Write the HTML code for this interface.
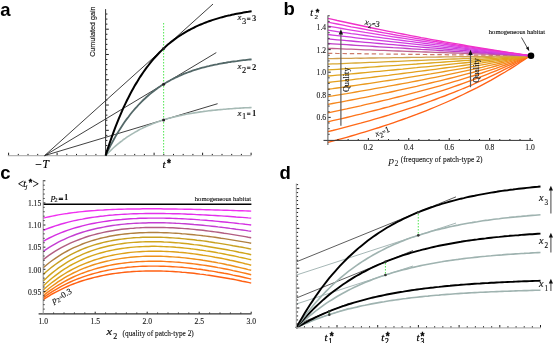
<!DOCTYPE html>
<html><head><meta charset="utf-8"><style>
html,body{margin:0;padding:0;background:#fff;}
svg{display:block;}
</style></head><body>
<svg width="553" height="343" viewBox="0 0 553 343">
<rect width="553" height="343" fill="#fff"/>
<path d="M7.8,155.6H251.4" stroke="#b4b4b4" stroke-width="1.3" fill="none"/>
<path d="M105.6,155.6V9.1" stroke="#333" stroke-width="1.0" fill="none"/>
<path d="M8.60,155.10V152.70M18.30,155.10V153.90M28.00,155.10V153.90M37.70,155.10V153.90M47.40,155.10V153.90M57.10,155.10V152.70M66.80,155.10V153.90M76.50,155.10V153.90M86.20,155.10V153.90M95.90,155.10V153.90M105.60,155.10V152.70M115.30,155.10V153.90M125.00,155.10V153.90M134.70,155.10V153.90M144.40,155.10V153.90M154.10,155.10V152.70M163.80,155.10V153.90M173.50,155.10V153.90M183.20,155.10V153.90M192.90,155.10V153.90M202.60,155.10V152.70M212.30,155.10V153.90M222.00,155.10V153.90M231.70,155.10V153.90M241.40,155.10V153.90M251.10,155.10V152.70" stroke="#1e1e1e" stroke-width="1.0" fill="none"/>
<path d="M106.00,150.54H107.40M106.00,145.49H107.40M106.00,140.43H107.40M106.00,135.38H107.40M106.00,130.32H108.80M106.00,125.26H107.40M106.00,120.21H107.40M106.00,115.15H107.40M106.00,110.10H107.40M106.00,105.04H108.80M106.00,99.98H107.40M106.00,94.93H107.40M106.00,89.87H107.40M106.00,84.82H107.40M106.00,79.76H108.80M106.00,74.70H107.40M106.00,69.65H107.40M106.00,64.59H107.40M106.00,59.54H107.40M106.00,54.48H108.80M106.00,49.42H107.40M106.00,44.37H107.40M106.00,39.31H107.40M106.00,34.26H107.40M106.00,29.20H108.80M106.00,24.14H107.40M106.00,19.09H107.40M106.00,14.03H107.40" stroke="#1e1e1e" stroke-width="1.0" fill="none"/>
<path d="M44.6,155.6L213.00,4.04" stroke="#2a2a2a" stroke-width="0.9" fill="none"/>
<path d="M44.6,155.6L216.30,52.58" stroke="#2a2a2a" stroke-width="0.9" fill="none"/>
<path d="M44.6,155.6L217.60,103.70" stroke="#2a2a2a" stroke-width="0.9" fill="none"/>
<path d="M105.6,155.6L107.2,153.9L108.9,152.2L110.5,150.6L112.2,149.0L113.8,147.5L115.4,146.1L117.1,144.7L118.7,143.3L120.4,142.0L122.0,140.8L123.6,139.5L125.3,138.4L126.9,137.2L128.6,136.1L130.2,135.1L131.8,134.1L133.5,133.1L135.1,132.1L136.8,131.2L138.4,130.3L140.0,129.4L141.7,128.6L143.3,127.8L145.0,127.0L146.6,126.3L148.3,125.6L149.9,124.9L151.5,124.2L153.2,123.5L154.8,122.9L156.5,122.3L158.1,121.7L159.7,121.2L161.4,120.6L163.0,120.1L164.7,119.6L166.3,119.1L167.9,118.6L169.6,118.1L171.2,117.7L172.9,117.3L174.5,116.9L176.1,116.5L177.8,116.1L179.4,115.7L181.1,115.4L182.7,115.0L184.3,114.7L186.0,114.3L187.6,114.0L189.3,113.7L190.9,113.4L192.5,113.2L194.2,112.9L195.8,112.6L197.5,112.4L199.1,112.1L200.7,111.9L202.4,111.7L204.0,111.4L205.7,111.2L207.3,111.0L208.9,110.8L210.6,110.6L212.2,110.4L213.9,110.3L215.5,110.1L217.2,109.9L218.8,109.8L220.4,109.6L222.1,109.5L223.7,109.3L225.4,109.2L227.0,109.0L228.6,108.9L230.3,108.8L231.9,108.7L233.6,108.5L235.2,108.4L236.8,108.3L238.5,108.2L240.1,108.1L241.8,108.0L243.4,107.9L245.0,107.8L246.7,107.7L248.3,107.7L250.0,107.6L251.6,107.5" stroke="#a6bab5" stroke-width="1.6" fill="none"/>
<path d="M105.6,155.6L107.2,152.1L108.9,148.8L110.5,145.6L112.2,142.5L113.8,139.5L115.4,136.6L117.1,133.8L118.7,131.1L120.4,128.4L122.0,125.9L123.6,123.5L125.3,121.1L126.9,118.9L128.6,116.7L130.2,114.5L131.8,112.5L133.5,110.5L135.1,108.6L136.8,106.8L138.4,105.0L140.0,103.3L141.7,101.6L143.3,100.0L145.0,98.5L146.6,97.0L148.3,95.5L149.9,94.1L151.5,92.8L153.2,91.5L154.8,90.2L156.5,89.0L158.1,87.8L159.7,86.7L161.4,85.6L163.0,84.6L164.7,83.5L166.3,82.6L167.9,81.6L169.6,80.7L171.2,79.8L172.9,79.0L174.5,78.1L176.1,77.3L177.8,76.6L179.4,75.8L181.1,75.1L182.7,74.4L184.3,73.7L186.0,73.1L187.6,72.5L189.3,71.9L190.9,71.3L192.5,70.7L194.2,70.2L195.8,69.7L197.5,69.1L199.1,68.7L200.7,68.2L202.4,67.7L204.0,67.3L205.7,66.9L207.3,66.4L208.9,66.1L210.6,65.7L212.2,65.3L213.9,64.9L215.5,64.6L217.2,64.3L218.8,63.9L220.4,63.6L222.1,63.3L223.7,63.0L225.4,62.8L227.0,62.5L228.6,62.2L230.3,62.0L231.9,61.7L233.6,61.5L235.2,61.3L236.8,61.1L238.5,60.8L240.1,60.6L241.8,60.4L243.4,60.2L245.0,60.1L246.7,59.9L248.3,59.7L250.0,59.5L251.6,59.4" stroke="#536868" stroke-width="1.8" fill="none"/>
<path d="M105.6,155.6L107.2,150.4L108.9,145.4L110.5,140.6L112.2,135.9L113.8,131.4L115.4,127.1L117.1,122.9L118.7,118.8L120.4,114.9L122.0,111.1L123.6,107.4L125.3,103.9L126.9,100.5L128.6,97.2L130.2,94.0L131.8,91.0L133.5,88.0L135.1,85.1L136.8,82.4L138.4,79.7L140.0,77.1L141.7,74.6L143.3,72.2L145.0,69.9L146.6,67.7L148.3,65.5L149.9,63.4L151.5,61.4L153.2,59.4L154.8,57.5L156.5,55.7L158.1,54.0L159.7,52.3L161.4,50.6L163.0,49.1L164.7,47.5L166.3,46.0L167.9,44.6L169.6,43.2L171.2,41.9L172.9,40.6L174.5,39.4L176.1,38.2L177.8,37.0L179.4,35.9L181.1,34.9L182.7,33.8L184.3,32.8L186.0,31.8L187.6,30.9L189.3,30.0L190.9,29.1L192.5,28.3L194.2,27.5L195.8,26.7L197.5,25.9L199.1,25.2L200.7,24.5L202.4,23.8L204.0,23.1L205.7,22.5L207.3,21.9L208.9,21.3L210.6,20.7L212.2,20.1L213.9,19.6L215.5,19.1L217.2,18.6L218.8,18.1L220.4,17.6L222.1,17.2L223.7,16.8L225.4,16.3L227.0,15.9L228.6,15.5L230.3,15.2L231.9,14.8L233.6,14.4L235.2,14.1L236.8,13.8L238.5,13.5L240.1,13.2L241.8,12.9L243.4,12.6L245.0,12.3L246.7,12.0L248.3,11.8L250.0,11.5L251.6,11.3" stroke="#000000" stroke-width="2.0" fill="none"/>
<path d="M163.6,23V155" stroke="#5fe85f" stroke-width="1.1" stroke-dasharray="1.5,1.5" fill="none"/>
<circle cx="163.6" cy="119.90" r="1.5" fill="#222"/>
<circle cx="163.6" cy="84.20" r="1.5" fill="#222"/>
<circle cx="163.6" cy="48.50" r="1.5" fill="#222"/>
<text x="0" y="0" font-family="'Liberation Sans', sans-serif" font-size="7.2" text-anchor="middle" transform="translate(95.4,31.7) rotate(-90)" fill="#1a1a1a" stroke="#1a1a1a" stroke-width="0.15">Cumulated gain</text>
<text x="35.3" y="167.8" font-family="'Liberation Serif', serif" font-size="11.5" fill="#000" stroke="#000" stroke-width="0.25">−</text>
<text x="42.4" y="167.9" font-family="'Liberation Serif', serif" font-size="11.5" font-style="italic" fill="#000" stroke="#000" stroke-width="0.2">T</text>
<text x="162.4" y="167.6" font-family="'Liberation Serif', serif" font-size="11.0" font-style="italic" fill="#000" stroke="#000" stroke-width="0.2">t</text>
<text x="169.00" y="167.15" font-family="'Liberation Sans', sans-serif" font-size="10.0" font-weight="bold" text-anchor="middle" fill="#000" stroke="#000" stroke-width="0.3">*</text>
<text x="237.5" y="19.9" font-family="'Liberation Serif', serif" font-size="8.8" font-style="italic" fill="#111" stroke="#111" stroke-width="0.15">x</text>
<text x="241.9" y="23.5" font-family="'Liberation Serif', serif" font-size="8.4" fill="#111" stroke="#111" stroke-width="0.15">3</text>
<text x="246.7" y="20.5" font-family="'Liberation Serif', serif" font-size="6.8" fill="#222" stroke="#222" stroke-width="0.35">=</text>
<text x="251.9" y="20.5" font-family="'Liberation Serif', serif" font-size="8.6" font-weight="bold" fill="#111">3</text>
<text x="237.5" y="69.4" font-family="'Liberation Serif', serif" font-size="8.8" font-style="italic" fill="#111" stroke="#111" stroke-width="0.15">x</text>
<text x="241.9" y="73.0" font-family="'Liberation Serif', serif" font-size="8.4" fill="#111" stroke="#111" stroke-width="0.15">2</text>
<text x="246.7" y="70.0" font-family="'Liberation Serif', serif" font-size="6.8" fill="#222" stroke="#222" stroke-width="0.35">=</text>
<text x="251.9" y="70.0" font-family="'Liberation Serif', serif" font-size="8.6" font-weight="bold" fill="#111">2</text>
<text x="237.5" y="115.6" font-family="'Liberation Serif', serif" font-size="8.8" font-style="italic" fill="#111" stroke="#111" stroke-width="0.15">x</text>
<text x="241.9" y="119.19999999999999" font-family="'Liberation Serif', serif" font-size="8.4" fill="#111" stroke="#111" stroke-width="0.15">1</text>
<text x="246.7" y="116.19999999999999" font-family="'Liberation Serif', serif" font-size="6.8" fill="#222" stroke="#222" stroke-width="0.35">=</text>
<text x="251.9" y="116.19999999999999" font-family="'Liberation Serif', serif" font-size="8.6" font-weight="bold" fill="#111">1</text>
<path d="M327.9,142.4L332.6,141.1L337.2,139.9L341.9,138.6L346.6,137.3L351.2,136.0L355.9,134.6L360.6,133.2L365.2,131.8L369.9,130.4L374.6,128.9L379.2,127.5L383.9,125.9L388.6,124.4L393.2,122.8L397.9,121.2L402.6,119.5L407.2,117.9L411.9,116.1L416.6,114.4L421.2,112.6L425.9,110.8L430.6,108.9L435.2,107.0L439.9,105.0L444.6,103.0L449.2,101.0L453.9,98.9L458.6,96.7L463.2,94.5L467.9,92.2L472.6,89.9L477.2,87.6L481.9,85.1L486.5,82.6L491.2,80.1L495.9,77.4L500.5,74.7L505.2,72.0L509.9,69.1L513.9,66.6L517.2,64.5L520.4,62.3L523.6,60.2L526.9,58.0L530.1,55.7" stroke="#ff6216" stroke-width="1.35" fill="none"/>
<path d="M327.9,131.6L332.6,130.5L337.2,129.3L341.9,128.1L346.6,126.9L351.2,125.7L355.9,124.4L360.6,123.2L365.2,121.9L369.9,120.6L374.6,119.2L379.2,117.9L383.9,116.5L388.6,115.1L393.2,113.6L397.9,112.2L402.6,110.7L407.2,109.2L411.9,107.6L416.6,106.1L421.2,104.5L425.9,102.8L430.6,101.2L435.2,99.5L439.9,97.7L444.6,96.0L449.2,94.2L453.9,92.3L458.6,90.5L463.2,88.5L467.9,86.6L472.6,84.6L477.2,82.5L481.9,80.4L486.5,78.3L491.2,76.1L495.9,73.9L500.5,71.6L505.2,69.2L509.9,66.8L513.9,64.7L517.2,63.0L520.4,61.2L523.6,59.4L526.9,57.6L530.1,55.7" stroke="#ff6a18" stroke-width="1.35" fill="none"/>
<path d="M327.9,121.8L332.6,120.7L337.2,119.7L341.9,118.6L346.6,117.5L351.2,116.4L355.9,115.2L360.6,114.1L365.2,112.9L369.9,111.7L374.6,110.5L379.2,109.3L383.9,108.0L388.6,106.8L393.2,105.5L397.9,104.2L402.6,102.8L407.2,101.5L411.9,100.1L416.6,98.7L421.2,97.3L425.9,95.9L430.6,94.4L435.2,92.9L439.9,91.4L444.6,89.8L449.2,88.3L453.9,86.7L458.6,85.0L463.2,83.4L467.9,81.7L472.6,80.0L477.2,78.2L481.9,76.4L486.5,74.6L491.2,72.7L495.9,70.8L500.5,68.9L505.2,66.9L509.9,64.9L513.9,63.1L517.2,61.7L520.4,60.2L523.6,58.7L526.9,57.2L530.1,55.7" stroke="#fd741a" stroke-width="1.35" fill="none"/>
<path d="M327.9,112.8L332.6,111.8L337.2,110.8L341.9,109.8L346.6,108.9L351.2,107.8L355.9,106.8L360.6,105.8L365.2,104.7L369.9,103.7L374.6,102.6L379.2,101.5L383.9,100.4L388.6,99.3L393.2,98.1L397.9,97.0L402.6,95.8L407.2,94.6L411.9,93.4L416.6,92.2L421.2,90.9L425.9,89.7L430.6,88.4L435.2,87.1L439.9,85.8L444.6,84.4L449.2,83.1L453.9,81.7L458.6,80.3L463.2,78.9L467.9,77.4L472.6,76.0L477.2,74.5L481.9,73.0L486.5,71.4L491.2,69.9L495.9,68.3L500.5,66.6L505.2,65.0L509.9,63.3L513.9,61.8L517.2,60.6L520.4,59.4L523.6,58.2L526.9,57.0L530.1,55.7" stroke="#fa7e1c" stroke-width="1.35" fill="none"/>
<path d="M327.9,104.4L332.6,103.5L337.2,102.7L341.9,101.8L346.6,100.9L351.2,100.0L355.9,99.1L360.6,98.2L365.2,97.3L369.9,96.3L374.6,95.4L379.2,94.4L383.9,93.4L388.6,92.5L393.2,91.5L397.9,90.4L402.6,89.4L407.2,88.4L411.9,87.3L416.6,86.3L421.2,85.2L425.9,84.1L430.6,83.0L435.2,81.9L439.9,80.8L444.6,79.6L449.2,78.5L453.9,77.3L458.6,76.1L463.2,74.9L467.9,73.7L472.6,72.5L477.2,71.2L481.9,69.9L486.5,68.7L491.2,67.3L495.9,66.0L500.5,64.7L505.2,63.3L509.9,61.9L513.9,60.7L517.2,59.7L520.4,58.7L523.6,57.7L526.9,56.7L530.1,55.7" stroke="#f6881e" stroke-width="1.35" fill="none"/>
<path d="M327.9,96.6L332.6,95.9L337.2,95.1L341.9,94.3L346.6,93.6L351.2,92.8L355.9,92.0L360.6,91.2L365.2,90.4L369.9,89.6L374.6,88.7L379.2,87.9L383.9,87.1L388.6,86.2L393.2,85.4L397.9,84.5L402.6,83.6L407.2,82.8L411.9,81.9L416.6,81.0L421.2,80.1L425.9,79.1L430.6,78.2L435.2,77.3L439.9,76.3L444.6,75.4L449.2,74.4L453.9,73.4L458.6,72.4L463.2,71.4L467.9,70.4L472.6,69.4L477.2,68.3L481.9,67.3L486.5,66.2L491.2,65.2L495.9,64.1L500.5,63.0L505.2,61.9L509.9,60.7L513.9,59.7L517.2,59.0L520.4,58.1L523.6,57.3L526.9,56.5L530.1,55.7" stroke="#f0921e" stroke-width="1.35" fill="none"/>
<path d="M327.9,89.3L332.6,88.7L337.2,88.0L341.9,87.4L346.6,86.7L351.2,86.0L355.9,85.4L360.6,84.7L365.2,84.0L369.9,83.3L374.6,82.6L379.2,81.9L383.9,81.2L388.6,80.5L393.2,79.8L397.9,79.1L402.6,78.4L407.2,77.6L411.9,76.9L416.6,76.1L421.2,75.4L425.9,74.6L430.6,73.9L435.2,73.1L439.9,72.3L444.6,71.5L449.2,70.7L453.9,69.9L458.6,69.1L463.2,68.3L467.9,67.5L472.6,66.6L477.2,65.8L481.9,64.9L486.5,64.1L491.2,63.2L495.9,62.4L500.5,61.5L505.2,60.6L509.9,59.7L513.9,58.9L517.2,58.3L520.4,57.6L523.6,57.0L526.9,56.3L530.1,55.7" stroke="#ea9a1e" stroke-width="1.35" fill="none"/>
<path d="M327.9,82.5L332.6,81.9L337.2,81.4L341.9,80.9L346.6,80.3L351.2,79.8L355.9,79.2L360.6,78.7L365.2,78.1L369.9,77.6L374.6,77.0L379.2,76.4L383.9,75.8L388.6,75.3L393.2,74.7L397.9,74.1L402.6,73.5L407.2,72.9L411.9,72.3L416.6,71.7L421.2,71.1L425.9,70.5L430.6,69.9L435.2,69.3L439.9,68.7L444.6,68.0L449.2,67.4L453.9,66.8L458.6,66.1L463.2,65.5L467.9,64.8L472.6,64.2L477.2,63.5L481.9,62.9L486.5,62.2L491.2,61.5L495.9,60.8L500.5,60.2L505.2,59.5L509.9,58.8L513.9,58.2L517.2,57.7L520.4,57.2L523.6,56.7L526.9,56.2L530.1,55.7" stroke="#e4a01e" stroke-width="1.35" fill="none"/>
<path d="M327.9,76.0L332.6,75.6L337.2,75.2L341.9,74.8L346.6,74.3L351.2,73.9L355.9,73.5L360.6,73.0L365.2,72.6L369.9,72.2L374.6,71.7L379.2,71.3L383.9,70.9L388.6,70.4L393.2,70.0L397.9,69.5L402.6,69.1L407.2,68.6L411.9,68.1L416.6,67.7L421.2,67.2L425.9,66.8L430.6,66.3L435.2,65.8L439.9,65.4L444.6,64.9L449.2,64.4L453.9,63.9L458.6,63.4L463.2,63.0L467.9,62.5L472.6,62.0L477.2,61.5L481.9,61.0L486.5,60.5L491.2,60.0L495.9,59.5L500.5,59.0L505.2,58.5L509.9,58.0L513.9,57.5L517.2,57.1L520.4,56.8L523.6,56.4L526.9,56.1L530.1,55.7" stroke="#e0a41e" stroke-width="1.35" fill="none"/>
<path d="M327.9,69.9L332.6,69.6L337.2,69.3L341.9,69.0L346.6,68.7L351.2,68.4L355.9,68.1L360.6,67.8L365.2,67.5L369.9,67.1L374.6,66.8L379.2,66.5L383.9,66.2L388.6,65.9L393.2,65.6L397.9,65.3L402.6,64.9L407.2,64.6L411.9,64.3L416.6,64.0L421.2,63.6L425.9,63.3L430.6,63.0L435.2,62.7L439.9,62.3L444.6,62.0L449.2,61.7L453.9,61.3L458.6,61.0L463.2,60.7L467.9,60.3L472.6,60.0L477.2,59.6L481.9,59.3L486.5,59.0L491.2,58.6L495.9,58.3L500.5,57.9L505.2,57.6L509.9,57.2L513.9,56.9L517.2,56.7L520.4,56.4L523.6,56.2L526.9,55.9L530.1,55.7" stroke="#dca822" stroke-width="1.35" fill="none"/>
<path d="M327.9,64.1L332.6,63.9L337.2,63.8L341.9,63.6L346.6,63.4L351.2,63.2L355.9,63.0L360.6,62.8L365.2,62.6L369.9,62.4L374.6,62.3L379.2,62.1L383.9,61.9L388.6,61.7L393.2,61.5L397.9,61.3L402.6,61.1L407.2,60.9L411.9,60.7L416.6,60.5L421.2,60.3L425.9,60.1L430.6,59.9L435.2,59.8L439.9,59.6L444.6,59.4L449.2,59.2L453.9,59.0L458.6,58.8L463.2,58.6L467.9,58.4L472.6,58.2L477.2,58.0L481.9,57.8L486.5,57.6L491.2,57.4L495.9,57.2L500.5,57.0L505.2,56.8L509.9,56.6L513.9,56.4L517.2,56.3L520.4,56.1L523.6,56.0L526.9,55.8L530.1,55.7" stroke="#d8a830" stroke-width="1.35" fill="none"/>
<path d="M327.9,58.6L332.6,58.6L337.2,58.5L341.9,58.4L346.6,58.4L351.2,58.3L355.9,58.2L360.6,58.2L365.2,58.1L369.9,58.0L374.6,58.0L379.2,57.9L383.9,57.8L388.6,57.8L393.2,57.7L397.9,57.6L402.6,57.6L407.2,57.5L411.9,57.4L416.6,57.4L421.2,57.3L425.9,57.2L430.6,57.1L435.2,57.1L439.9,57.0L444.6,56.9L449.2,56.9L453.9,56.8L458.6,56.7L463.2,56.7L467.9,56.6L472.6,56.5L477.2,56.5L481.9,56.4L486.5,56.3L491.2,56.3L495.9,56.2L500.5,56.1L505.2,56.1L509.9,56.0L513.9,55.9L517.2,55.9L520.4,55.8L523.6,55.8L526.9,55.7L530.1,55.7" stroke="#d0a050" stroke-width="1.35" fill="none"/>
<path d="M327.9,53.4L332.6,53.4L337.2,53.5L341.9,53.5L346.6,53.6L351.2,53.6L355.9,53.7L360.6,53.7L365.2,53.8L369.9,53.9L374.6,53.9L379.2,54.0L383.9,54.0L388.6,54.1L393.2,54.1L397.9,54.2L402.6,54.2L407.2,54.3L411.9,54.3L416.6,54.4L421.2,54.5L425.9,54.5L430.6,54.6L435.2,54.6L439.9,54.7L444.6,54.7L449.2,54.8L453.9,54.8L458.6,54.9L463.2,54.9L467.9,55.0L472.6,55.0L477.2,55.1L481.9,55.1L486.5,55.2L491.2,55.3L495.9,55.3L500.5,55.4L505.2,55.4L509.9,55.5L513.9,55.5L517.2,55.6L520.4,55.6L523.6,55.6L526.9,55.7L530.1,55.7" stroke="#cc7a6a" stroke-width="1.2" stroke-dasharray="4.4,2.9" fill="none"/>
<path d="M327.9,48.3L332.6,48.5L337.2,48.7L341.9,48.9L346.6,49.1L351.2,49.2L355.9,49.4L360.6,49.6L365.2,49.8L369.9,49.9L374.6,50.1L379.2,50.3L383.9,50.4L388.6,50.6L393.2,50.8L397.9,51.0L402.6,51.1L407.2,51.3L411.9,51.5L416.6,51.6L421.2,51.8L425.9,52.0L430.6,52.2L435.2,52.3L439.9,52.5L444.6,52.7L449.2,52.8L453.9,53.0L458.6,53.2L463.2,53.3L467.9,53.5L472.6,53.7L477.2,53.8L481.9,54.0L486.5,54.2L491.2,54.3L495.9,54.5L500.5,54.7L505.2,54.8L509.9,55.0L513.9,55.1L517.2,55.2L520.4,55.4L523.6,55.5L526.9,55.6L530.1,55.7" stroke="#c06090" stroke-width="1.35" fill="none"/>
<path d="M327.9,43.5L332.6,43.8L337.2,44.1L341.9,44.4L346.6,44.7L351.2,45.0L355.9,45.3L360.6,45.6L365.2,45.9L369.9,46.2L374.6,46.5L379.2,46.8L383.9,47.1L388.6,47.4L393.2,47.7L397.9,47.9L402.6,48.2L407.2,48.5L411.9,48.8L416.6,49.1L421.2,49.4L425.9,49.6L430.6,49.9L435.2,50.2L439.9,50.5L444.6,50.8L449.2,51.0L453.9,51.3L458.6,51.6L463.2,51.9L467.9,52.1L472.6,52.4L477.2,52.7L481.9,53.0L486.5,53.2L491.2,53.5L495.9,53.8L500.5,54.0L505.2,54.3L509.9,54.6L513.9,54.8L517.2,55.0L520.4,55.2L523.6,55.3L526.9,55.5L530.1,55.7" stroke="#c040c8" stroke-width="1.35" fill="none"/>
<path d="M327.9,38.9L332.6,39.4L337.2,39.8L341.9,40.2L346.6,40.6L351.2,41.0L355.9,41.5L360.6,41.9L365.2,42.3L369.9,42.7L374.6,43.1L379.2,43.5L383.9,43.9L388.6,44.3L393.2,44.7L397.9,45.1L402.6,45.5L407.2,45.9L411.9,46.3L416.6,46.7L421.2,47.1L425.9,47.5L430.6,47.8L435.2,48.2L439.9,48.6L444.6,49.0L449.2,49.4L453.9,49.8L458.6,50.1L463.2,50.5L467.9,50.9L472.6,51.2L477.2,51.6L481.9,52.0L486.5,52.4L491.2,52.7L495.9,53.1L500.5,53.4L505.2,53.8L509.9,54.2L513.9,54.5L517.2,54.7L520.4,55.0L523.6,55.2L526.9,55.5L530.1,55.7" stroke="#c838d8" stroke-width="1.35" fill="none"/>
<path d="M327.9,34.5L332.6,35.1L337.2,35.6L341.9,36.1L346.6,36.7L351.2,37.2L355.9,37.8L360.6,38.3L365.2,38.8L369.9,39.3L374.6,39.9L379.2,40.4L383.9,40.9L388.6,41.4L393.2,41.9L397.9,42.4L402.6,42.9L407.2,43.4L411.9,43.9L416.6,44.4L421.2,44.9L425.9,45.4L430.6,45.9L435.2,46.4L439.9,46.9L444.6,47.4L449.2,47.8L453.9,48.3L458.6,48.8L463.2,49.2L467.9,49.7L472.6,50.2L477.2,50.6L481.9,51.1L486.5,51.6L491.2,52.0L495.9,52.5L500.5,52.9L505.2,53.4L509.9,53.8L513.9,54.2L517.2,54.5L520.4,54.8L523.6,55.1L526.9,55.4L530.1,55.7" stroke="#d03ee0" stroke-width="1.35" fill="none"/>
<path d="M327.9,30.2L332.6,30.9L337.2,31.6L341.9,32.3L346.6,32.9L351.2,33.6L355.9,34.2L360.6,34.9L365.2,35.5L369.9,36.2L374.6,36.8L379.2,37.4L383.9,38.1L388.6,38.7L393.2,39.3L397.9,39.9L402.6,40.5L407.2,41.1L411.9,41.7L416.6,42.3L421.2,42.9L425.9,43.5L430.6,44.1L435.2,44.7L439.9,45.2L444.6,45.8L449.2,46.4L453.9,47.0L458.6,47.5L463.2,48.1L467.9,48.6L472.6,49.2L477.2,49.7L481.9,50.3L486.5,50.8L491.2,51.4L495.9,51.9L500.5,52.4L505.2,52.9L509.9,53.5L513.9,53.9L517.2,54.3L520.4,54.6L523.6,55.0L526.9,55.3L530.1,55.7" stroke="#d440e2" stroke-width="1.35" fill="none"/>
<path d="M327.9,26.1L332.6,26.9L337.2,27.7L341.9,28.5L346.6,29.3L351.2,30.1L355.9,30.9L360.6,31.6L365.2,32.4L369.9,33.1L374.6,33.9L379.2,34.6L383.9,35.4L388.6,36.1L393.2,36.8L397.9,37.5L402.6,38.2L407.2,38.9L411.9,39.6L416.6,40.3L421.2,41.0L425.9,41.7L430.6,42.4L435.2,43.1L439.9,43.7L444.6,44.4L449.2,45.0L453.9,45.7L458.6,46.3L463.2,47.0L467.9,47.6L472.6,48.3L477.2,48.9L481.9,49.5L486.5,50.1L491.2,50.7L495.9,51.4L500.5,52.0L505.2,52.6L509.9,53.2L513.9,53.7L517.2,54.1L520.4,54.5L523.6,54.9L526.9,55.3L530.1,55.7" stroke="#e040e0" stroke-width="1.35" fill="none"/>
<path d="M327.9,22.2L332.6,23.1L337.2,24.0L341.9,24.9L346.6,25.9L351.2,26.8L355.9,27.6L360.6,28.5L365.2,29.4L369.9,30.3L374.6,31.1L379.2,32.0L383.9,32.8L388.6,33.6L393.2,34.5L397.9,35.3L402.6,36.1L407.2,36.9L411.9,37.7L416.6,38.5L421.2,39.2L425.9,40.0L430.6,40.8L435.2,41.5L439.9,42.3L444.6,43.1L449.2,43.8L453.9,44.5L458.6,45.3L463.2,46.0L467.9,46.7L472.6,47.4L477.2,48.1L481.9,48.8L486.5,49.5L491.2,50.2L495.9,50.9L500.5,51.5L505.2,52.2L509.9,52.9L513.9,53.5L517.2,53.9L520.4,54.4L523.6,54.8L526.9,55.3L530.1,55.7" stroke="#e838d8" stroke-width="1.35" fill="none"/>
<path d="M327.9,18.4L332.6,19.4L337.2,20.5L341.9,21.5L346.6,22.5L351.2,23.5L355.9,24.5L360.6,25.5L365.2,26.5L369.9,27.5L374.6,28.5L379.2,29.4L383.9,30.4L388.6,31.3L393.2,32.2L397.9,33.1L402.6,34.0L407.2,34.9L411.9,35.8L416.6,36.7L421.2,37.6L425.9,38.4L430.6,39.3L435.2,40.1L439.9,41.0L444.6,41.8L449.2,42.6L453.9,43.4L458.6,44.2L463.2,45.0L467.9,45.8L472.6,46.6L477.2,47.4L481.9,48.2L486.5,48.9L491.2,49.7L495.9,50.4L500.5,51.2L505.2,51.9L509.9,52.6L513.9,53.2L517.2,53.7L520.4,54.2L523.6,54.7L526.9,55.2L530.1,55.7" stroke="#f030c8" stroke-width="1.35" fill="none"/>
<path d="M323.5,140.4H533" stroke="#333" stroke-width="1.0" fill="none"/>
<path d="M327.9,145V15.3" stroke="#555" stroke-width="1.0" fill="none"/>
<path d="M338.01,140.00V139.00M348.12,140.00V139.00M358.23,140.00V139.00M368.34,140.00V138.00M378.45,140.00V139.00M388.56,140.00V139.00M398.67,140.00V139.00M408.78,140.00V138.00M418.89,140.00V139.00M429.00,140.00V139.00M439.11,140.00V139.00M449.22,140.00V138.00M459.33,140.00V139.00M469.44,140.00V139.00M479.55,140.00V139.00M489.66,140.00V138.00M499.77,140.00V139.00M509.88,140.00V139.00M519.99,140.00V139.00M530.10,140.00V138.00" stroke="#1e1e1e" stroke-width="1.0" fill="none"/>
<path d="M328.30,134.29H329.60M328.30,128.65H329.60M328.30,123.00H329.60M328.30,117.36H330.70M328.30,111.71H329.60M328.30,106.07H329.60M328.30,100.42H329.60M328.30,94.78H330.70M328.30,89.13H329.60M328.30,83.49H329.60M328.30,77.84H329.60M328.30,72.20H330.70M328.30,66.55H329.60M328.30,60.91H329.60M328.30,55.26H329.60M328.30,49.62H330.70M328.30,43.97H329.60M328.30,38.33H329.60M328.30,32.68H329.60M328.30,27.04H330.70M328.30,21.39H329.60M328.30,15.75H329.60" stroke="#1e1e1e" stroke-width="1.0" fill="none"/>
<text x="326.1" y="120.36" font-family="'Liberation Serif', serif" font-size="7.6" text-anchor="end" fill="#1a1a1a" stroke="#1a1a1a" stroke-width="0.12">0.6</text>
<text x="326.1" y="97.78" font-family="'Liberation Serif', serif" font-size="7.6" text-anchor="end" fill="#1a1a1a" stroke="#1a1a1a" stroke-width="0.12">0.8</text>
<text x="326.1" y="75.20" font-family="'Liberation Serif', serif" font-size="7.6" text-anchor="end" fill="#1a1a1a" stroke="#1a1a1a" stroke-width="0.12">1.0</text>
<text x="326.1" y="52.62" font-family="'Liberation Serif', serif" font-size="7.6" text-anchor="end" fill="#1a1a1a" stroke="#1a1a1a" stroke-width="0.12">1.2</text>
<text x="326.1" y="30.04" font-family="'Liberation Serif', serif" font-size="7.6" text-anchor="end" fill="#1a1a1a" stroke="#1a1a1a" stroke-width="0.12">1.4</text>
<text x="368.34" y="150.3" font-family="'Liberation Serif', serif" font-size="7.6" text-anchor="middle" fill="#1a1a1a" stroke="#1a1a1a" stroke-width="0.12">0.2</text>
<text x="408.78" y="150.3" font-family="'Liberation Serif', serif" font-size="7.6" text-anchor="middle" fill="#1a1a1a" stroke="#1a1a1a" stroke-width="0.12">0.4</text>
<text x="449.22" y="150.3" font-family="'Liberation Serif', serif" font-size="7.6" text-anchor="middle" fill="#1a1a1a" stroke="#1a1a1a" stroke-width="0.12">0.6</text>
<text x="489.66" y="150.3" font-family="'Liberation Serif', serif" font-size="7.6" text-anchor="middle" fill="#1a1a1a" stroke="#1a1a1a" stroke-width="0.12">0.8</text>
<text x="530.10" y="150.3" font-family="'Liberation Serif', serif" font-size="7.6" text-anchor="middle" fill="#1a1a1a" stroke="#1a1a1a" stroke-width="0.12">1.0</text>
<circle cx="531" cy="55.7" r="3.3" fill="#000"/>
<text x="516.9" y="34.2" font-family="'Liberation Serif', serif" font-size="6.6" text-anchor="middle" fill="#111" stroke="#111" stroke-width="0.12">homogeneous habitat</text>
<path d="M521.5,37.5L527.6,48.3" stroke="#222" stroke-width="0.8" fill="none"/>
<path d="M529.3,51.2L525.9,48.0L528.6,46.6Z" fill="#111"/>
<path d="M340.9,125.7V33.3" stroke="#5a5a5a" stroke-width="1.2" fill="none"/>
<path d="M340.9,29.3L338.7,34.5L343.09999999999997,34.5Z" fill="#111"/>
<path d="M470.5,87.2V53.8" stroke="#5a5a5a" stroke-width="1.2" fill="none"/>
<path d="M470.5,49.8L468.3,55.0L472.7,55.0Z" fill="#111"/>
<text x="0" y="0" font-family="'Liberation Serif', serif" font-size="8.2" text-anchor="middle" transform="translate(349.4,79.8) rotate(-90)" fill="#111" stroke="#111" stroke-width="0.12">Quality</text>
<text x="0" y="0" font-family="'Liberation Serif', serif" font-size="8.2" text-anchor="middle" transform="translate(479.0,70.5) rotate(-90)" fill="#111" stroke="#111" stroke-width="0.12">Quality</text>
<g transform="translate(364.5,24.6) rotate(10)"><text font-family="'Liberation Serif', serif" font-size="8.6" fill="#111" stroke="#111" stroke-width="0.12"><tspan font-style="italic">x</tspan><tspan font-size="7" dy="2.4">2</tspan><tspan font-size="6" dy="-2.4">=</tspan><tspan>3</tspan></text></g>
<g transform="translate(376.2,136.8) rotate(-21)"><text font-family="'Liberation Serif', serif" font-size="8.6" fill="#111" stroke="#111" stroke-width="0.12"><tspan font-style="italic">x</tspan><tspan font-size="7" dy="2.4">2</tspan><tspan font-size="6" dy="-2.4">=</tspan><tspan>1</tspan></text></g>
<text x="310.2" y="16.4" font-family="'Liberation Serif', serif" font-size="9.6" font-style="italic" fill="#000" stroke="#000" stroke-width="0.2">t</text>
<text x="314.5" y="18.6" font-family="'Liberation Serif', serif" font-size="7.0" fill="#000" stroke="#000" stroke-width="0.15">2</text>
<text x="317.50" y="14.57" font-family="'Liberation Sans', sans-serif" font-size="9.0" font-weight="bold" text-anchor="middle" fill="#000" stroke="#000" stroke-width="0.3">*</text>
<text x="388.6" y="163.8" font-family="'Liberation Serif', serif" font-size="11.2" font-style="italic" fill="#111">p</text>
<text x="394.6" y="166.0" font-family="'Liberation Serif', serif" font-size="7.8" fill="#111">2</text>
<text x="400.8" y="162.0" font-family="'Liberation Serif', serif" font-size="7.45" fill="#111" stroke="#111" stroke-width="0.1">(frequency of patch-type 2)</text>
<path d="M43.2,299.7L46.2,297.7L49.2,295.8L52.2,294.0L55.3,292.3L58.3,290.8L61.3,289.3L64.3,287.8L67.3,286.5L70.3,285.2L73.3,284.0L76.4,282.9L79.4,281.8L82.4,280.8L85.4,279.9L88.4,279.0L91.4,278.2L94.4,277.4L97.5,276.7L100.5,276.0L103.5,275.4L106.5,274.8L109.5,274.3L112.5,273.8L115.5,273.4L118.6,273.0L121.6,272.6L124.6,272.3L127.6,272.0L130.6,271.8L133.6,271.5L136.6,271.4L139.7,271.2L142.7,271.1L145.7,271.0L148.7,271.0L151.7,270.9L154.7,270.9L157.8,271.0L160.8,271.0L163.8,271.1L166.8,271.2L169.8,271.4L172.8,271.5L175.8,271.7L178.9,271.9L181.9,272.2L184.9,272.4L187.9,272.7L190.9,273.0L193.9,273.3L196.9,273.7L200.0,274.1L203.0,274.4L206.0,274.9L209.0,275.3L212.0,275.7L215.0,276.2L218.0,276.7L221.1,277.2L224.1,277.7L227.1,278.2L230.1,278.8L233.1,279.3L236.1,279.9L239.1,280.5L242.2,281.2L245.2,281.8L248.2,282.4L251.2,283.1" stroke="#ff6012" stroke-width="1.45" fill="none"/>
<path d="M43.2,297.8L46.2,295.7L49.2,293.6L52.2,291.7L55.3,289.8L58.3,288.1L61.3,286.4L64.3,284.9L67.3,283.4L70.3,282.0L73.3,280.7L76.4,279.4L79.4,278.3L82.4,277.1L85.4,276.1L88.4,275.1L91.4,274.2L94.4,273.4L97.5,272.6L100.5,271.8L103.5,271.1L106.5,270.5L109.5,269.9L112.5,269.4L115.5,268.9L118.6,268.4L121.6,268.0L124.6,267.7L127.6,267.3L130.6,267.1L133.6,266.8L136.6,266.6L139.7,266.4L142.7,266.3L145.7,266.2L148.7,266.1L151.7,266.1L154.7,266.1L157.8,266.1L160.8,266.2L163.8,266.2L166.8,266.4L169.8,266.5L172.8,266.7L175.8,266.9L178.9,267.1L181.9,267.3L184.9,267.6L187.9,267.9L190.9,268.2L193.9,268.6L196.9,269.0L200.0,269.3L203.0,269.8L206.0,270.2L209.0,270.7L212.0,271.1L215.0,271.6L218.0,272.2L221.1,272.7L224.1,273.3L227.1,273.8L230.1,274.4L233.1,275.1L236.1,275.7L239.1,276.3L242.2,277.0L245.2,277.7L248.2,278.4L251.2,279.1" stroke="#ff6c14" stroke-width="1.45" fill="none"/>
<path d="M43.2,295.8L46.2,293.4L49.2,291.2L52.2,289.1L55.3,287.0L58.3,285.1L61.3,283.3L64.3,281.6L67.3,280.0L70.3,278.5L73.3,277.0L76.4,275.7L79.4,274.4L82.4,273.2L85.4,272.1L88.4,271.0L91.4,270.1L94.4,269.1L97.5,268.3L100.5,267.5L103.5,266.7L106.5,266.0L109.5,265.4L112.5,264.8L115.5,264.3L118.6,263.8L121.6,263.4L124.6,263.0L127.6,262.6L130.6,262.3L133.6,262.1L136.6,261.8L139.7,261.6L142.7,261.5L145.7,261.4L148.7,261.3L151.7,261.3L154.7,261.3L157.8,261.3L160.8,261.3L163.8,261.4L166.8,261.6L169.8,261.7L172.8,261.9L175.8,262.1L178.9,262.3L181.9,262.6L184.9,262.9L187.9,263.2L190.9,263.5L193.9,263.9L196.9,264.3L200.0,264.7L203.0,265.1L206.0,265.5L209.0,266.0L212.0,266.5L215.0,267.0L218.0,267.6L221.1,268.1L224.1,268.7L227.1,269.3L230.1,269.9L233.1,270.6L236.1,271.2L239.1,271.9L242.2,272.6L245.2,273.3L248.2,274.0L251.2,274.7" stroke="#fa7c18" stroke-width="1.45" fill="none"/>
<path d="M43.2,293.3L46.2,290.7L49.2,288.3L52.2,286.0L55.3,283.8L58.3,281.7L61.3,279.8L64.3,277.9L67.3,276.2L70.3,274.6L73.3,273.0L76.4,271.6L79.4,270.2L82.4,268.9L85.4,267.7L88.4,266.6L91.4,265.5L94.4,264.5L97.5,263.6L100.5,262.8L103.5,262.0L106.5,261.2L109.5,260.6L112.5,259.9L115.5,259.4L118.6,258.9L121.6,258.4L124.6,258.0L127.6,257.6L130.6,257.3L133.6,257.0L136.6,256.8L139.7,256.6L142.7,256.4L145.7,256.3L148.7,256.2L151.7,256.2L154.7,256.2L157.8,256.2L160.8,256.3L163.8,256.4L166.8,256.5L169.8,256.7L172.8,256.9L175.8,257.1L178.9,257.3L181.9,257.6L184.9,257.9L187.9,258.2L190.9,258.6L193.9,259.0L196.9,259.4L200.0,259.8L203.0,260.3L206.0,260.7L209.0,261.2L212.0,261.8L215.0,262.3L218.0,262.9L221.1,263.4L224.1,264.0L227.1,264.7L230.1,265.3L233.1,266.0L236.1,266.7L239.1,267.4L242.2,268.1L245.2,268.8L248.2,269.6L251.2,270.3" stroke="#ee901a" stroke-width="1.45" fill="none"/>
<path d="M43.2,290.0L46.2,287.3L49.2,284.7L52.2,282.3L55.3,280.1L58.3,277.9L61.3,275.9L64.3,274.0L67.3,272.2L70.3,270.5L73.3,268.9L76.4,267.3L79.4,265.9L82.4,264.6L85.4,263.3L88.4,262.2L91.4,261.1L94.4,260.0L97.5,259.1L100.5,258.2L103.5,257.3L106.5,256.6L109.5,255.9L112.5,255.2L115.5,254.6L118.6,254.1L121.6,253.6L124.6,253.2L127.6,252.8L130.6,252.4L133.6,252.1L136.6,251.9L139.7,251.7L142.7,251.5L145.7,251.4L148.7,251.3L151.7,251.2L154.7,251.2L157.8,251.2L160.8,251.3L163.8,251.4L166.8,251.5L169.8,251.6L172.8,251.8L175.8,252.0L178.9,252.3L181.9,252.5L184.9,252.8L187.9,253.1L190.9,253.5L193.9,253.9L196.9,254.3L200.0,254.7L203.0,255.2L206.0,255.6L209.0,256.1L212.0,256.6L215.0,257.2L218.0,257.7L221.1,258.3L224.1,258.9L227.1,259.5L230.1,260.2L233.1,260.8L236.1,261.5L239.1,262.2L242.2,262.9L245.2,263.7L248.2,264.4L251.2,265.2" stroke="#dea01a" stroke-width="1.45" fill="none"/>
<path d="M43.2,286.1L46.2,283.2L49.2,280.5L52.2,278.0L55.3,275.6L58.3,273.3L61.3,271.2L64.3,269.2L67.3,267.3L70.3,265.5L73.3,263.9L76.4,262.3L79.4,260.9L82.4,259.5L85.4,258.2L88.4,257.0L91.4,255.9L94.4,254.9L97.5,253.9L100.5,253.0L103.5,252.2L106.5,251.4L109.5,250.7L112.5,250.1L115.5,249.5L118.6,249.0L121.6,248.5L124.6,248.1L127.6,247.7L130.6,247.4L133.6,247.1L136.6,246.9L139.7,246.7L142.7,246.6L145.7,246.4L148.7,246.4L151.7,246.3L154.7,246.3L157.8,246.4L160.8,246.5L163.8,246.6L166.8,246.7L169.8,246.9L172.8,247.0L175.8,247.3L178.9,247.5L181.9,247.8L184.9,248.1L187.9,248.4L190.9,248.8L193.9,249.1L196.9,249.5L200.0,250.0L203.0,250.4L206.0,250.9L209.0,251.3L212.0,251.8L215.0,252.3L218.0,252.9L221.1,253.4L224.1,254.0L227.1,254.6L230.1,255.2L233.1,255.8L236.1,256.4L239.1,257.1L242.2,257.7L245.2,258.4L248.2,259.1L251.2,259.8" stroke="#d6a61a" stroke-width="1.45" fill="none"/>
<path d="M43.2,281.0L46.2,278.2L49.2,275.4L52.2,272.9L55.3,270.5L58.3,268.2L61.3,266.1L64.3,264.1L67.3,262.2L70.3,260.4L73.3,258.8L76.4,257.2L79.4,255.8L82.4,254.4L85.4,253.2L88.4,252.0L91.4,250.9L94.4,249.9L97.5,248.9L100.5,248.0L103.5,247.2L106.5,246.5L109.5,245.8L112.5,245.2L115.5,244.6L118.6,244.1L121.6,243.7L124.6,243.3L127.6,242.9L130.6,242.6L133.6,242.4L136.6,242.2L139.7,242.0L142.7,241.9L145.7,241.8L148.7,241.7L151.7,241.7L154.7,241.7L157.8,241.8L160.8,241.8L163.8,242.0L166.8,242.1L169.8,242.3L172.8,242.5L175.8,242.7L178.9,242.9L181.9,243.2L184.9,243.5L187.9,243.8L190.9,244.2L193.9,244.6L196.9,244.9L200.0,245.3L203.0,245.8L206.0,246.2L209.0,246.7L212.0,247.2L215.0,247.7L218.0,248.2L221.1,248.7L224.1,249.2L227.1,249.8L230.1,250.4L233.1,250.9L236.1,251.5L239.1,252.2L242.2,252.8L245.2,253.4L248.2,254.0L251.2,254.7" stroke="#d0a41c" stroke-width="1.45" fill="none"/>
<path d="M43.2,274.6L46.2,271.8L49.2,269.2L52.2,266.8L55.3,264.5L58.3,262.3L61.3,260.3L64.3,258.4L67.3,256.6L70.3,254.9L73.3,253.4L76.4,251.9L79.4,250.5L82.4,249.2L85.4,248.0L88.4,246.9L91.4,245.9L94.4,244.9L97.5,244.0L100.5,243.2L103.5,242.4L106.5,241.7L109.5,241.1L112.5,240.5L115.5,240.0L118.6,239.5L121.6,239.1L124.6,238.7L127.6,238.4L130.6,238.1L133.6,237.8L136.6,237.6L139.7,237.5L142.7,237.3L145.7,237.3L148.7,237.2L151.7,237.2L154.7,237.2L157.8,237.2L160.8,237.3L163.8,237.4L166.8,237.5L169.8,237.7L172.8,237.9L175.8,238.1L178.9,238.3L181.9,238.6L184.9,238.9L187.9,239.2L190.9,239.5L193.9,239.8L196.9,240.2L200.0,240.5L203.0,240.9L206.0,241.3L209.0,241.8L212.0,242.2L215.0,242.7L218.0,243.1L221.1,243.6L224.1,244.1L227.1,244.6L230.1,245.1L233.1,245.7L236.1,246.2L239.1,246.8L242.2,247.3L245.2,247.9L248.2,248.5L251.2,249.1" stroke="#c8a020" stroke-width="1.45" fill="none"/>
<path d="M43.2,267.7L46.2,265.2L49.2,262.7L52.2,260.5L55.3,258.3L58.3,256.3L61.3,254.4L64.3,252.6L67.3,251.0L70.3,249.4L73.3,247.9L76.4,246.6L79.4,245.3L82.4,244.0L85.4,242.9L88.4,241.9L91.4,240.9L94.4,240.0L97.5,239.1L100.5,238.3L103.5,237.6L106.5,237.0L109.5,236.3L112.5,235.8L115.5,235.3L118.6,234.8L121.6,234.4L124.6,234.0L127.6,233.7L130.6,233.4L133.6,233.2L136.6,233.0L139.7,232.8L142.7,232.7L145.7,232.6L148.7,232.5L151.7,232.5L154.7,232.5L157.8,232.5L160.8,232.6L163.8,232.7L166.8,232.8L169.8,232.9L172.8,233.1L175.8,233.2L178.9,233.4L181.9,233.7L184.9,233.9L187.9,234.2L190.9,234.5L193.9,234.8L196.9,235.1L200.0,235.4L203.0,235.8L206.0,236.1L209.0,236.5L212.0,236.9L215.0,237.3L218.0,237.7L221.1,238.2L224.1,238.6L227.1,239.1L230.1,239.6L233.1,240.1L236.1,240.6L239.1,241.1L242.2,241.6L245.2,242.1L248.2,242.6L251.2,243.2" stroke="#b08040" stroke-width="1.45" fill="none"/>
<path d="M43.2,259.6L46.2,257.3L49.2,255.2L52.2,253.2L55.3,251.2L58.3,249.4L61.3,247.7L64.3,246.1L67.3,244.6L70.3,243.2L73.3,241.9L76.4,240.6L79.4,239.5L82.4,238.4L85.4,237.3L88.4,236.3L91.4,235.4L94.4,234.6L97.5,233.8L100.5,233.1L103.5,232.4L106.5,231.8L109.5,231.2L112.5,230.7L115.5,230.2L118.6,229.7L121.6,229.3L124.6,229.0L127.6,228.7L130.6,228.4L133.6,228.2L136.6,227.9L139.7,227.8L142.7,227.6L145.7,227.5L148.7,227.5L151.7,227.4L154.7,227.4L157.8,227.4L160.8,227.4L163.8,227.5L166.8,227.6L169.8,227.7L172.8,227.8L175.8,228.0L178.9,228.2L181.9,228.4L184.9,228.6L187.9,228.8L190.9,229.1L193.9,229.4L196.9,229.7L200.0,230.0L203.0,230.3L206.0,230.7L209.0,231.1L212.0,231.5L215.0,231.9L218.0,232.3L221.1,232.7L224.1,233.2L227.1,233.6L230.1,234.1L233.1,234.6L236.1,235.1L239.1,235.6L242.2,236.1L245.2,236.6L248.2,237.2L251.2,237.7" stroke="#b25e82" stroke-width="1.45" fill="none"/>
<path d="M43.2,251.4L46.2,249.4L49.2,247.4L52.2,245.6L55.3,243.9L58.3,242.2L61.3,240.7L64.3,239.3L67.3,237.9L70.3,236.7L73.3,235.5L76.4,234.3L79.4,233.3L82.4,232.3L85.4,231.4L88.4,230.5L91.4,229.7L94.4,229.0L97.5,228.3L100.5,227.7L103.5,227.1L106.5,226.5L109.5,226.0L112.5,225.5L115.5,225.1L118.6,224.7L121.6,224.4L124.6,224.1L127.6,223.8L130.6,223.6L133.6,223.4L136.6,223.2L139.7,223.1L142.7,222.9L145.7,222.9L148.7,222.8L151.7,222.8L154.7,222.7L157.8,222.8L160.8,222.8L163.8,222.8L166.8,222.9L169.8,223.0L172.8,223.1L175.8,223.3L178.9,223.4L181.9,223.6L184.9,223.8L187.9,224.0L190.9,224.2L193.9,224.5L196.9,224.7L200.0,225.0L203.0,225.3L206.0,225.6L209.0,225.9L212.0,226.2L215.0,226.5L218.0,226.9L221.1,227.2L224.1,227.6L227.1,228.0L230.1,228.4L233.1,228.7L236.1,229.2L239.1,229.6L242.2,230.0L245.2,230.4L248.2,230.9L251.2,231.3" stroke="#c43ed2" stroke-width="1.45" fill="none"/>
<path d="M43.2,241.3L46.2,239.6L49.2,238.0L52.2,236.6L55.3,235.2L58.3,233.9L61.3,232.7L64.3,231.5L67.3,230.4L70.3,229.4L73.3,228.4L76.4,227.5L79.4,226.7L82.4,225.9L85.4,225.1L88.4,224.4L91.4,223.8L94.4,223.2L97.5,222.6L100.5,222.1L103.5,221.6L106.5,221.2L109.5,220.8L112.5,220.4L115.5,220.0L118.6,219.7L121.6,219.5L124.6,219.2L127.6,219.0L130.6,218.8L133.6,218.6L136.6,218.5L139.7,218.3L142.7,218.2L145.7,218.2L148.7,218.1L151.7,218.1L154.7,218.1L157.8,218.1L160.8,218.1L163.8,218.1L166.8,218.2L169.8,218.3L172.8,218.4L175.8,218.5L178.9,218.6L181.9,218.7L184.9,218.9L187.9,219.1L190.9,219.2L193.9,219.4L196.9,219.6L200.0,219.9L203.0,220.1L206.0,220.3L209.0,220.6L212.0,220.8L215.0,221.1L218.0,221.4L221.1,221.7L224.1,222.0L227.1,222.3L230.1,222.6L233.1,222.9L236.1,223.2L239.1,223.6L242.2,223.9L245.2,224.3L248.2,224.6L251.2,225.0" stroke="#d430e2" stroke-width="1.45" fill="none"/>
<path d="M43.2,230.5L46.2,229.2L49.2,228.0L52.2,227.0L55.3,225.9L58.3,225.0L61.3,224.0L64.3,223.2L67.3,222.4L70.3,221.6L73.3,220.9L76.4,220.3L79.4,219.6L82.4,219.1L85.4,218.5L88.4,218.0L91.4,217.5L94.4,217.1L97.5,216.7L100.5,216.3L103.5,216.0L106.5,215.6L109.5,215.3L112.5,215.1L115.5,214.8L118.6,214.6L121.6,214.4L124.6,214.2L127.6,214.1L130.6,213.9L133.6,213.8L136.6,213.7L139.7,213.6L142.7,213.6L145.7,213.5L148.7,213.5L151.7,213.5L154.7,213.5L157.8,213.5L160.8,213.5L163.8,213.5L166.8,213.6L169.8,213.6L172.8,213.7L175.8,213.8L178.9,213.8L181.9,213.9L184.9,214.0L187.9,214.2L190.9,214.3L193.9,214.4L196.9,214.6L200.0,214.7L203.0,214.9L206.0,215.0L209.0,215.2L212.0,215.4L215.0,215.5L218.0,215.7L221.1,215.9L224.1,216.1L227.1,216.3L230.1,216.5L233.1,216.7L236.1,217.0L239.1,217.2L242.2,217.4L245.2,217.6L248.2,217.9L251.2,218.1" stroke="#e230ec" stroke-width="1.45" fill="none"/>
<path d="M43.2,218.1L46.2,217.4L49.2,216.7L52.2,216.1L55.3,215.5L58.3,214.9L61.3,214.4L64.3,213.9L67.3,213.5L70.3,213.0L73.3,212.6L76.4,212.3L79.4,211.9L82.4,211.6L85.4,211.3L88.4,211.0L91.4,210.8L94.4,210.6L97.5,210.3L100.5,210.1L103.5,210.0L106.5,209.8L109.5,209.6L112.5,209.5L115.5,209.4L118.6,209.3L121.6,209.2L124.6,209.1L127.6,209.0L130.6,209.0L133.6,208.9L136.6,208.9L139.7,208.9L142.7,208.8L145.7,208.8L148.7,208.8L151.7,208.8L154.7,208.8L157.8,208.8L160.8,208.8L163.8,208.9L166.8,208.9L169.8,208.9L172.8,209.0L175.8,209.0L178.9,209.1L181.9,209.1L184.9,209.2L187.9,209.3L190.9,209.3L193.9,209.4L196.9,209.5L200.0,209.5L203.0,209.6L206.0,209.7L209.0,209.8L212.0,209.9L215.0,210.0L218.0,210.0L221.1,210.1L224.1,210.2L227.1,210.3L230.1,210.4L233.1,210.5L236.1,210.6L239.1,210.7L242.2,210.8L245.2,210.9L248.2,211.0L251.2,211.1" stroke="#f030f0" stroke-width="1.45" fill="none"/>
<path d="M43.2,204.2H251.4" stroke="#000" stroke-width="1.5" fill="none"/>
<path d="M38.6,313.9H251.5" stroke="#333" stroke-width="1.2" fill="none"/>
<path d="M43.2,313.9V180.0" stroke="#8a8a8a" stroke-width="1.0" fill="none"/>
<path d="M53.60,313.50V312.50M64.00,313.50V312.50M74.40,313.50V312.50M84.80,313.50V312.50M95.20,313.50V311.70M105.60,313.50V312.50M116.00,313.50V312.50M126.40,313.50V312.50M136.80,313.50V312.50M147.20,313.50V311.70M157.60,313.50V312.50M168.00,313.50V312.50M178.40,313.50V312.50M188.80,313.50V312.50M199.20,313.50V311.70M209.60,313.50V312.50M220.00,313.50V312.50M230.40,313.50V312.50M240.80,313.50V312.50M251.20,313.50V311.70" stroke="#1e1e1e" stroke-width="1.0" fill="none"/>
<path d="M43.4,309.10H44.60M43.4,304.67H44.60M43.4,300.25H44.60M43.4,295.82H44.60M43.4,291.40H45.40M43.4,286.97H44.60M43.4,282.55H44.60M43.4,278.12H44.60M43.4,273.70H44.60M43.4,269.27H45.40M43.4,264.85H44.60M43.4,260.42H44.60M43.4,256.00H44.60M43.4,251.57H44.60M43.4,247.15H45.40M43.4,242.72H44.60M43.4,238.30H44.60M43.4,233.87H44.60M43.4,229.45H44.60M43.4,225.02H45.40M43.4,220.60H44.60M43.4,216.17H44.60M43.4,211.75H44.60M43.4,207.32H44.60M43.4,202.90H45.40M43.4,198.47H44.60M43.4,194.05H44.60M43.4,189.62H44.60M43.4,185.20H44.60M43.4,180.77H45.40" stroke="#1e1e1e" stroke-width="1.0" fill="none"/>
<text x="41.2" y="294.70" font-family="'Liberation Serif', serif" font-size="7.6" text-anchor="end" fill="#1a1a1a" stroke="#1a1a1a" stroke-width="0.12">0.95</text>
<text x="41.2" y="272.57" font-family="'Liberation Serif', serif" font-size="7.6" text-anchor="end" fill="#1a1a1a" stroke="#1a1a1a" stroke-width="0.12">1.00</text>
<text x="41.2" y="250.45" font-family="'Liberation Serif', serif" font-size="7.6" text-anchor="end" fill="#1a1a1a" stroke="#1a1a1a" stroke-width="0.12">1.05</text>
<text x="41.2" y="228.32" font-family="'Liberation Serif', serif" font-size="7.6" text-anchor="end" fill="#1a1a1a" stroke="#1a1a1a" stroke-width="0.12">1.10</text>
<text x="41.2" y="206.20" font-family="'Liberation Serif', serif" font-size="7.6" text-anchor="end" fill="#1a1a1a" stroke="#1a1a1a" stroke-width="0.12">1.15</text>
<text x="43.20" y="323.6" font-family="'Liberation Serif', serif" font-size="7.6" text-anchor="middle" fill="#1a1a1a" stroke="#1a1a1a" stroke-width="0.12">1.0</text>
<text x="95.20" y="323.6" font-family="'Liberation Serif', serif" font-size="7.6" text-anchor="middle" fill="#1a1a1a" stroke="#1a1a1a" stroke-width="0.12">1.5</text>
<text x="147.20" y="323.6" font-family="'Liberation Serif', serif" font-size="7.6" text-anchor="middle" fill="#1a1a1a" stroke="#1a1a1a" stroke-width="0.12">2.0</text>
<text x="199.20" y="323.6" font-family="'Liberation Serif', serif" font-size="7.6" text-anchor="middle" fill="#1a1a1a" stroke="#1a1a1a" stroke-width="0.12">2.5</text>
<text x="251.20" y="323.6" font-family="'Liberation Serif', serif" font-size="7.6" text-anchor="middle" fill="#1a1a1a" stroke="#1a1a1a" stroke-width="0.12">3.0</text>
<text x="222.9" y="201.4" font-family="'Liberation Serif', serif" font-size="6.6" text-anchor="middle" fill="#111" stroke="#111" stroke-width="0.12">homogeneous habitat</text>
<text x="50.9" y="199.9" font-family="'Liberation Serif', serif" font-size="8.8" font-style="italic" fill="#111" stroke="#111" stroke-width="0.2">p</text>
<text x="54.6" y="202.4" font-family="'Liberation Serif', serif" font-size="6.2" fill="#111" stroke="#111" stroke-width="0.15">2</text>
<text x="58.5" y="201.9" font-family="'Liberation Serif', serif" font-size="8.6" fill="#111" stroke="#111" stroke-width="0.35">=</text>
<text x="63.9" y="200.4" font-family="'Liberation Serif', serif" font-size="8.6" font-weight="bold" fill="#111">1</text>
<g transform="translate(53.6,303.6) rotate(-30)"><text font-family="'Liberation Serif', serif" font-size="8.6" fill="#111" stroke="#111" stroke-width="0.12"><tspan font-style="italic">p</tspan><tspan font-size="6.5" dy="1.6">2</tspan><tspan font-size="6" dy="-1.6">=</tspan><tspan>0.3</tspan></text></g>
<text x="0" y="0" font-family="'Liberation Serif', serif" font-size="12.5" transform="translate(17.9,187.8) scale(0.82,1)" fill="#000" stroke="#000" stroke-width="0.2">&lt;</text>
<text x="23.2" y="186.6" font-family="'Liberation Serif', serif" font-size="9.6" font-style="italic" fill="#000" stroke="#000" stroke-width="0.2">t</text>
<text x="25.6" y="188.6" font-family="'Liberation Serif', serif" font-size="6.8" font-style="italic" fill="#000" stroke="#000" stroke-width="0.15">j</text>
<text x="30.40" y="184.96" font-family="'Liberation Sans', sans-serif" font-size="9.0" font-weight="bold" text-anchor="middle" fill="#000" stroke="#000" stroke-width="0.3">*</text>
<text x="0" y="0" font-family="'Liberation Serif', serif" font-size="12.5" transform="translate(32.6,187.6) scale(0.9,1)" fill="#000" stroke="#000" stroke-width="0.2">&gt;</text>
<text x="0" y="0" font-family="'Liberation Serif', serif" font-size="9.8" font-style="italic" transform="translate(106.6,334.6) scale(1.3,1)" fill="#111" stroke="#111" stroke-width="0.2">x</text>
<text x="113.2" y="339.2" font-family="'Liberation Serif', serif" font-size="8.0" fill="#111" stroke="#111" stroke-width="0.15">2</text>
<text x="122.6" y="335.5" font-family="'Liberation Serif', serif" font-size="7.3" fill="#111" stroke="#111" stroke-width="0.1">(quality of patch-type 2)</text>
<path d="M296.3,261.86L456.00,196.84" stroke="#333" stroke-width="0.8" fill="none"/>
<path d="M296.3,275.07L456.00,223.05" stroke="#8fa5a3" stroke-width="0.8" fill="none"/>
<path d="M296.3,298.05L413.00,250.54" stroke="#333" stroke-width="0.8" fill="none"/>
<path d="M296.3,304.02L413.00,266.01" stroke="#8fa5a3" stroke-width="0.8" fill="none"/>
<path d="M296.3,324.75L349.20,303.21" stroke="#333" stroke-width="0.8" fill="none"/>
<path d="M296.3,325.38L349.20,308.15" stroke="#8fa5a3" stroke-width="0.8" fill="none"/>
<path d="M296.3,327.9L299.0,326.6L301.8,325.3L304.5,324.1L307.3,322.9L310.0,321.7L312.8,320.6L315.5,319.5L318.3,318.5L321.0,317.5L323.7,316.5L326.5,315.6L329.2,314.7L332.0,313.8L334.7,312.9L337.5,312.1L340.2,311.3L342.9,310.5L345.7,309.8L348.4,309.1L351.2,308.4L353.9,307.7L356.7,307.1L359.4,306.4L362.2,305.8L364.9,305.3L367.6,304.7L370.4,304.1L373.1,303.6L375.9,303.1L378.6,302.6L381.4,302.1L384.1,301.7L386.8,301.2L389.6,300.8L392.3,300.4L395.1,300.0L397.8,299.6L400.6,299.2L403.3,298.8L406.1,298.5L408.8,298.1L411.5,297.8L414.3,297.5L417.0,297.2L419.8,296.9L422.5,296.6L425.3,296.3L428.0,296.1L430.7,295.8L433.5,295.5L436.2,295.3L439.0,295.1L441.7,294.8L444.5,294.6L447.2,294.4L450.0,294.2L452.7,294.0L455.4,293.8L458.2,293.6L460.9,293.4L463.7,293.3L466.4,293.1L469.2,292.9L471.9,292.8L474.6,292.6L477.4,292.5L480.1,292.3L482.9,292.2L485.6,292.1L488.4,292.0L491.1,291.8L493.9,291.7L496.6,291.6L499.3,291.5L502.1,291.4L504.8,291.3L507.6,291.2L510.3,291.1L513.1,291.0L515.8,290.9L518.5,290.8L521.3,290.7L524.0,290.6L526.8,290.6L529.5,290.5L532.3,290.4L535.0,290.3L537.8,290.3L540.5,290.2" stroke="#9fb3b0" stroke-width="1.6" fill="none"/>
<path d="M296.3,327.9L299.0,326.2L301.8,324.7L304.5,323.1L307.3,321.6L310.0,320.2L312.8,318.8L315.5,317.4L318.3,316.1L321.0,314.9L323.7,313.7L326.5,312.5L329.2,311.3L332.0,310.2L334.7,309.2L337.5,308.2L340.2,307.2L342.9,306.2L345.7,305.3L348.4,304.4L351.2,303.5L353.9,302.7L356.7,301.9L359.4,301.1L362.2,300.3L364.9,299.6L367.6,298.9L370.4,298.2L373.1,297.5L375.9,296.9L378.6,296.3L381.4,295.7L384.1,295.1L386.8,294.5L389.6,294.0L392.3,293.5L395.1,293.0L397.8,292.5L400.6,292.0L403.3,291.6L406.1,291.1L408.8,290.7L411.5,290.3L414.3,289.9L417.0,289.5L419.8,289.1L422.5,288.8L425.3,288.4L428.0,288.1L430.7,287.8L433.5,287.5L436.2,287.1L439.0,286.9L441.7,286.6L444.5,286.3L447.2,286.0L450.0,285.8L452.7,285.5L455.4,285.3L458.2,285.1L460.9,284.8L463.7,284.6L466.4,284.4L469.2,284.2L471.9,284.0L474.6,283.8L477.4,283.6L480.1,283.5L482.9,283.3L485.6,283.1L488.4,283.0L491.1,282.8L493.9,282.7L496.6,282.5L499.3,282.4L502.1,282.2L504.8,282.1L507.6,282.0L510.3,281.9L513.1,281.8L515.8,281.6L518.5,281.5L521.3,281.4L524.0,281.3L526.8,281.2L529.5,281.1L532.3,281.0L535.0,280.9L537.8,280.9L540.5,280.8" stroke="#000" stroke-width="1.9" fill="none"/>
<path d="M296.3,327.9L299.0,325.3L301.8,322.7L304.5,320.2L307.3,317.9L310.0,315.5L312.8,313.3L315.5,311.2L318.3,309.1L321.0,307.1L323.7,305.1L326.5,303.2L329.2,301.4L332.0,299.7L334.7,298.0L337.5,296.3L340.2,294.7L342.9,293.2L345.7,291.7L348.4,290.3L351.2,288.9L353.9,287.5L356.7,286.2L359.4,285.0L362.2,283.8L364.9,282.6L367.6,281.5L370.4,280.4L373.1,279.3L375.9,278.3L378.6,277.3L381.4,276.3L384.1,275.4L386.8,274.5L389.6,273.7L392.3,272.8L395.1,272.0L397.8,271.2L400.6,270.5L403.3,269.8L406.1,269.1L408.8,268.4L411.5,267.7L414.3,267.1L417.0,266.5L419.8,265.9L422.5,265.3L425.3,264.7L428.0,264.2L430.7,263.7L433.5,263.2L436.2,262.7L439.0,262.2L441.7,261.8L444.5,261.3L447.2,260.9L450.0,260.5L452.7,260.1L455.4,259.7L458.2,259.4L460.9,259.0L463.7,258.6L466.4,258.3L469.2,258.0L471.9,257.7L474.6,257.4L477.4,257.1L480.1,256.8L482.9,256.5L485.6,256.3L488.4,256.0L491.1,255.8L493.9,255.5L496.6,255.3L499.3,255.1L502.1,254.9L504.8,254.6L507.6,254.4L510.3,254.3L513.1,254.1L515.8,253.9L518.5,253.7L521.3,253.5L524.0,253.4L526.8,253.2L529.5,253.1L532.3,252.9L535.0,252.8L537.8,252.6L540.5,252.5" stroke="#9fb3b0" stroke-width="1.6" fill="none"/>
<path d="M296.3,327.9L299.0,324.6L301.8,321.4L304.5,318.3L307.3,315.3L310.0,312.5L312.8,309.7L315.5,307.0L318.3,304.4L321.0,301.9L323.7,299.4L326.5,297.1L329.2,294.8L332.0,292.6L334.7,290.5L337.5,288.4L340.2,286.4L342.9,284.5L345.7,282.7L348.4,280.9L351.2,279.1L353.9,277.4L356.7,275.8L359.4,274.3L362.2,272.7L364.9,271.3L367.6,269.9L370.4,268.5L373.1,267.2L375.9,265.9L378.6,264.7L381.4,263.5L384.1,262.3L386.8,261.2L389.6,260.1L392.3,259.1L395.1,258.1L397.8,257.1L400.6,256.1L403.3,255.2L406.1,254.3L408.8,253.5L411.5,252.7L414.3,251.9L417.0,251.1L419.8,250.4L422.5,249.6L425.3,249.0L428.0,248.3L430.7,247.6L433.5,247.0L436.2,246.4L439.0,245.8L441.7,245.2L444.5,244.7L447.2,244.2L450.0,243.7L452.7,243.2L455.4,242.7L458.2,242.2L460.9,241.8L463.7,241.3L466.4,240.9L469.2,240.5L471.9,240.1L474.6,239.7L477.4,239.4L480.1,239.0L482.9,238.7L485.6,238.4L488.4,238.0L491.1,237.7L493.9,237.4L496.6,237.1L499.3,236.9L502.1,236.6L504.8,236.3L507.6,236.1L510.3,235.8L513.1,235.6L515.8,235.4L518.5,235.2L521.3,234.9L524.0,234.7L526.8,234.5L529.5,234.3L532.3,234.2L535.0,234.0L537.8,233.8L540.5,233.6" stroke="#000" stroke-width="1.9" fill="none"/>
<path d="M296.3,327.9L299.0,323.9L301.8,320.1L304.5,316.4L307.3,312.8L310.0,309.4L312.8,306.0L315.5,302.8L318.3,299.7L321.0,296.6L323.7,293.7L326.5,290.9L329.2,288.2L332.0,285.5L334.7,283.0L337.5,280.5L340.2,278.1L342.9,275.8L345.7,273.6L348.4,271.4L351.2,269.4L353.9,267.4L356.7,265.4L359.4,263.5L362.2,261.7L364.9,260.0L367.6,258.3L370.4,256.6L373.1,255.0L375.9,253.5L378.6,252.0L381.4,250.6L384.1,249.2L386.8,247.8L389.6,246.6L392.3,245.3L395.1,244.1L397.8,242.9L400.6,241.8L403.3,240.7L406.1,239.6L408.8,238.6L411.5,237.6L414.3,236.7L417.0,235.8L419.8,234.9L422.5,234.0L425.3,233.2L428.0,232.4L430.7,231.6L433.5,230.8L436.2,230.1L439.0,229.4L441.7,228.7L444.5,228.1L447.2,227.4L450.0,226.8L452.7,226.2L455.4,225.6L458.2,225.1L460.9,224.5L463.7,224.0L466.4,223.5L469.2,223.0L471.9,222.6L474.6,222.1L477.4,221.7L480.1,221.2L482.9,220.8L485.6,220.4L488.4,220.1L491.1,219.7L493.9,219.3L496.6,219.0L499.3,218.7L502.1,218.3L504.8,218.0L507.6,217.7L510.3,217.4L513.1,217.1L515.8,216.9L518.5,216.6L521.3,216.4L524.0,216.1L526.8,215.9L529.5,215.6L532.3,215.4L535.0,215.2L537.8,215.0L540.5,214.8" stroke="#9fb3b0" stroke-width="1.6" fill="none"/>
<path d="M296.3,327.9L299.0,322.9L301.8,318.2L304.5,313.5L307.3,309.1L310.0,304.7L312.8,300.6L315.5,296.5L318.3,292.6L321.0,288.8L323.7,285.2L326.5,281.6L329.2,278.2L332.0,274.9L334.7,271.8L337.5,268.7L340.2,265.7L342.9,262.8L345.7,260.0L348.4,257.3L351.2,254.7L353.9,252.2L356.7,249.8L359.4,247.4L362.2,245.2L364.9,243.0L367.6,240.8L370.4,238.8L373.1,236.8L375.9,234.9L378.6,233.0L381.4,231.2L384.1,229.5L386.8,227.8L389.6,226.2L392.3,224.7L395.1,223.1L397.8,221.7L400.6,220.3L403.3,218.9L406.1,217.6L408.8,216.3L411.5,215.1L414.3,213.9L417.0,212.7L419.8,211.6L422.5,210.5L425.3,209.5L428.0,208.5L430.7,207.5L433.5,206.6L436.2,205.6L439.0,204.8L441.7,203.9L444.5,203.1L447.2,202.3L450.0,201.5L452.7,200.8L455.4,200.1L458.2,199.4L460.9,198.7L463.7,198.1L466.4,197.4L469.2,196.8L471.9,196.2L474.6,195.7L477.4,195.1L480.1,194.6L482.9,194.1L485.6,193.6L488.4,193.1L491.1,192.6L493.9,192.2L496.6,191.8L499.3,191.3L502.1,190.9L504.8,190.5L507.6,190.2L510.3,189.8L513.1,189.5L515.8,189.1L518.5,188.8L521.3,188.5L524.0,188.2L526.8,187.9L529.5,187.6L532.3,187.3L535.0,187.0L537.8,186.8L540.5,186.5" stroke="#000" stroke-width="1.9" fill="none"/>
<path d="M329.30,311.32V314.63" stroke="#5fe85f" stroke-width="1.1" stroke-dasharray="1.5,1.5" stroke-dashoffset="-0.91" fill="none"/>
<circle cx="329.30" cy="311.32" r="1.3" fill="#333"/>
<circle cx="329.30" cy="314.63" r="1.3" fill="#333"/>
<text x="324.60" y="340.6" font-family="'Liberation Serif', serif" font-size="10.6" font-style="italic" fill="#000" stroke="#000" stroke-width="0.25">t</text>
<text x="328.50" y="344.0" font-family="'Liberation Serif', serif" font-size="7.6" fill="#000" stroke="#000" stroke-width="0.25">1</text>
<text x="331.60" y="340.25" font-family="'Liberation Sans', sans-serif" font-size="10.0" font-weight="bold" text-anchor="middle" fill="#000" stroke="#000" stroke-width="0.3">*</text>
<path d="M385.45,261.76V274.98" stroke="#5fe85f" stroke-width="1.1" stroke-dasharray="1.5,1.5" stroke-dashoffset="-1.36" fill="none"/>
<circle cx="385.45" cy="261.76" r="1.3" fill="#333"/>
<circle cx="385.45" cy="274.98" r="1.3" fill="#333"/>
<text x="381.20" y="340.6" font-family="'Liberation Serif', serif" font-size="10.6" font-style="italic" fill="#000" stroke="#000" stroke-width="0.25">t</text>
<text x="385.10" y="344.0" font-family="'Liberation Serif', serif" font-size="7.6" fill="#000" stroke="#000" stroke-width="0.25">2</text>
<text x="387.70" y="340.25" font-family="'Liberation Sans', sans-serif" font-size="10.0" font-weight="bold" text-anchor="middle" fill="#000" stroke="#000" stroke-width="0.3">*</text>
<path d="M418.29,212.20V235.34" stroke="#5fe85f" stroke-width="1.1" stroke-dasharray="1.5,1.5" stroke-dashoffset="-1.82" fill="none"/>
<circle cx="418.29" cy="212.20" r="1.3" fill="#333"/>
<circle cx="418.29" cy="235.34" r="1.3" fill="#333"/>
<text x="416.50" y="340.6" font-family="'Liberation Serif', serif" font-size="10.6" font-style="italic" fill="#000" stroke="#000" stroke-width="0.25">t</text>
<text x="420.40" y="344.0" font-family="'Liberation Serif', serif" font-size="7.6" fill="#000" stroke="#000" stroke-width="0.25">3</text>
<text x="422.50" y="340.25" font-family="'Liberation Sans', sans-serif" font-size="10.0" font-weight="bold" text-anchor="middle" fill="#000" stroke="#000" stroke-width="0.3">*</text>
<path d="M296.3,327.9H540.6" stroke="#b4b4b4" stroke-width="1.3" fill="none"/>
<path d="M296.3,327.9V183.5" stroke="#a0a0a0" stroke-width="1.0" fill="none"/>
<path d="M304.44,327.40V326.20M312.58,327.40V326.20M320.72,327.40V326.20M328.86,327.40V326.20M337.00,327.40V325.00M345.14,327.40V326.20M353.28,327.40V326.20M361.42,327.40V326.20M369.56,327.40V326.20M377.70,327.40V325.00M385.84,327.40V326.20M393.98,327.40V326.20M402.12,327.40V326.20M410.26,327.40V326.20M418.40,327.40V325.00M426.54,327.40V326.20M434.68,327.40V326.20M442.82,327.40V326.20M450.96,327.40V326.20M459.10,327.40V325.00M467.24,327.40V326.20M475.38,327.40V326.20M483.52,327.40V326.20M491.66,327.40V326.20M499.80,327.40V325.00M507.94,327.40V326.20M516.08,327.40V326.20M524.22,327.40V326.20M532.36,327.40V326.20M540.50,327.40V325.00" stroke="#1e1e1e" stroke-width="1.0" fill="none"/>
<path d="M296.70,323.92H298.10M296.70,319.94H298.10M296.70,315.96H298.10M296.70,311.98H298.10M296.70,308.00H299.30M296.70,304.02H298.10M296.70,300.04H298.10M296.70,296.06H298.10M296.70,292.08H298.10M296.70,288.10H299.30M296.70,284.12H298.10M296.70,280.14H298.10M296.70,276.16H298.10M296.70,272.18H298.10M296.70,268.20H299.30M296.70,264.22H298.10M296.70,260.24H298.10M296.70,256.26H298.10M296.70,252.28H298.10M296.70,248.30H299.30M296.70,244.32H298.10M296.70,240.34H298.10M296.70,236.36H298.10M296.70,232.38H298.10M296.70,228.40H299.30M296.70,224.42H298.10M296.70,220.44H298.10M296.70,216.46H298.10M296.70,212.48H298.10M296.70,208.50H299.30M296.70,204.52H298.10M296.70,200.54H298.10M296.70,196.56H298.10M296.70,192.58H298.10M296.70,188.60H299.30M296.70,184.62H298.10" stroke="#1e1e1e" stroke-width="1.0" fill="none"/>
<path d="M550.9,213.5V189.8" stroke="#555" stroke-width="1.1" fill="none"/>
<path d="M550.9,185.8L548.8,190.60000000000002L553.0,190.60000000000002Z" fill="#111"/>
<text x="538.9" y="201.4" font-family="'Liberation Serif', serif" font-size="10.2" font-style="italic" fill="#111" stroke="#111" stroke-width="0.15">x</text>
<text x="544.6" y="204.8" font-family="'Liberation Serif', serif" font-size="7.2" fill="#111" stroke="#111" stroke-width="0.12">3</text>
<path d="M550.9,252.6V236.8" stroke="#555" stroke-width="1.1" fill="none"/>
<path d="M550.9,232.8L548.8,237.60000000000002L553.0,237.60000000000002Z" fill="#111"/>
<text x="538.9" y="244.3" font-family="'Liberation Serif', serif" font-size="10.2" font-style="italic" fill="#111" stroke="#111" stroke-width="0.15">x</text>
<text x="544.6" y="247.70000000000002" font-family="'Liberation Serif', serif" font-size="7.2" fill="#111" stroke="#111" stroke-width="0.12">2</text>
<path d="M550.9,291.1V282.8" stroke="#555" stroke-width="1.1" fill="none"/>
<path d="M550.9,278.8L548.8,283.6L553.0,283.6Z" fill="#111"/>
<text x="538.9" y="287.4" font-family="'Liberation Serif', serif" font-size="10.2" font-style="italic" fill="#111" stroke="#111" stroke-width="0.15">x</text>
<text x="544.6" y="290.79999999999995" font-family="'Liberation Serif', serif" font-size="7.2" fill="#111" stroke="#111" stroke-width="0.12">1</text>
<text x="0.2" y="15.5" font-family="'Liberation Sans', sans-serif" font-size="18.5" font-weight="bold" fill="#000">a</text>
<text x="283.4" y="15.2" font-family="'Liberation Sans', sans-serif" font-size="18.5" font-weight="bold" fill="#000">b</text>
<text x="0.2" y="179.0" font-family="'Liberation Sans', sans-serif" font-size="18.5" font-weight="bold" fill="#000">c</text>
<text x="279.4" y="178.8" font-family="'Liberation Sans', sans-serif" font-size="18.5" font-weight="bold" fill="#000">d</text>
</svg>
</body></html>
